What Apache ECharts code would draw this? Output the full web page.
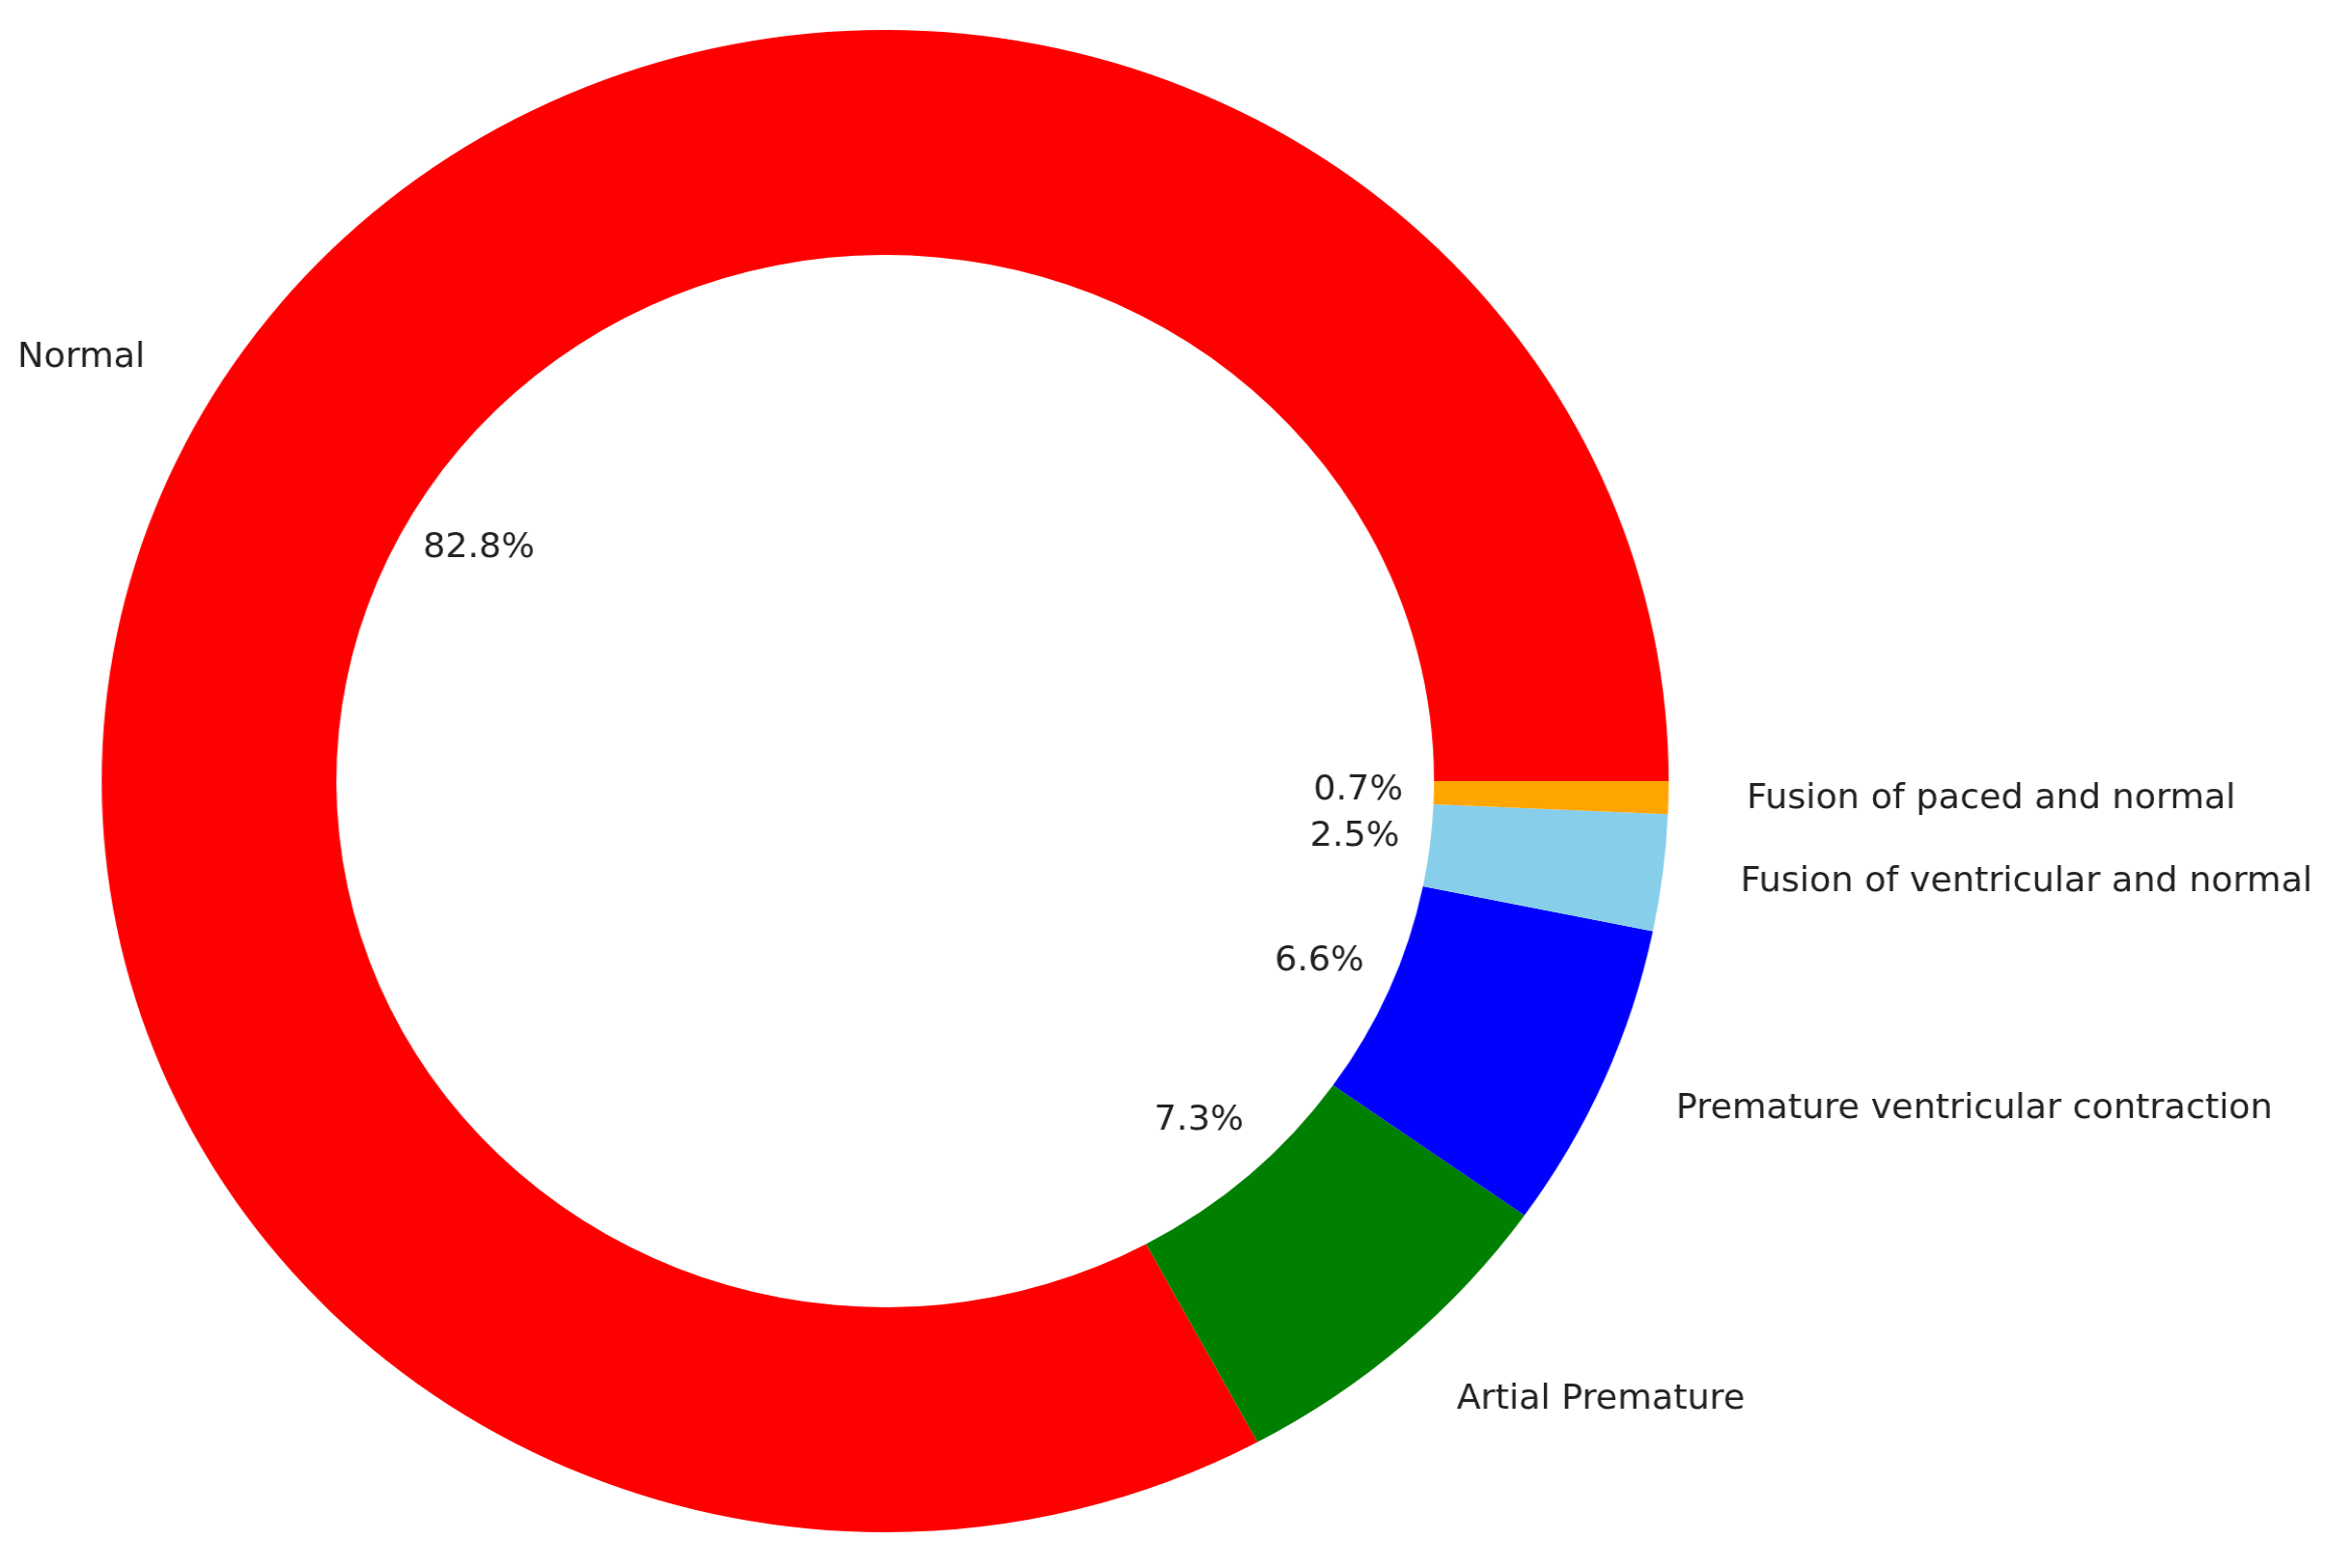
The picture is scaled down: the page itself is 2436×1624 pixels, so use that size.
<!DOCTYPE html>
<html>
<head>
<meta charset="utf-8">
<title>Beat classes</title>
<script src="https://cdn.jsdelivr.net/npm/echarts@6/dist/echarts.min.js"></script>
<style>
  html, body { margin: 0; padding: 0; background: #fff; overflow: hidden; }
  /* the original figure is a little wider than tall, so stretch the canvas sideways */
  #chart { width: 2336px; height: 1624px; transform: scaleX(1.043); transform-origin: 0 0; }
</style>
</head>
<body>
<div id="chart"></div>
<script>
// slice order follows the picture: counter-clockwise from 3 o'clock
const categories = ['Normal', 'Artial Premature', 'Premature ventricular contraction',
  'Fusion of ventricular and normal', 'Fusion of paced and normal']
const percents = [82.8, 7.3, 6.6, 2.5, 0.7]
const colors = ['#ff0000', '#008000', '#0000ff', '#87ceeb', '#ffa500']

const chart = echarts.init(document.getElementById('chart'))

const cx = 879
const cy = 809
const R = 778 // outer radius
const r0 = 545 // hole

let pieData = categories.map((name, i) => ({
  name: name,
  value: percents[i],
  itemStyle: { color: colors[i] }
}))

chart.setOption({
  animation: false,
  backgroundColor: '#fff',
  textStyle: { fontFamily: 'DejaVu Sans' },
  series: [
    {
      // invisible ring only used to place the percent texts at 0.6R
      type: 'pie',
      silent: true,
      z: 1,
      center: [cx, cy],
      radius: [0.6 * R - 80, 0.6 * R + 80],
      startAngle: 0,
      clockwise: false,
      avoidLabelOverlap: false,
      itemStyle: { color: 'rgba(0,0,0,0)' },
      label: {
        position: 'inside',
        formatter: p => p.value.toFixed(1) + '%',
        color: '#222',
        fontSize: 35,
        fontFamily: 'DejaVu Sans'
      },
      labelLine: { show: false },
      data: categories.map((name, i) => ({ name: name, value: percents[i] }))
    },
    {
      type: 'pie',
      z: 2,
      center: [cx, cy],
      radius: [r0, R],
      startAngle: 0,
      clockwise: false,
      avoidLabelOverlap: false,
      label: {
        position: 'outside',
        formatter: '{b}',
        color: '#222',
        fontSize: 35,
        fontFamily: 'DejaVu Sans',
        distanceToLabelLine: 0
      },
      labelLine: { show: false, length: 0.1 * R, length2: 0 },
      data: pieData
    }
  ]
})
</script>
</body>
</html>
